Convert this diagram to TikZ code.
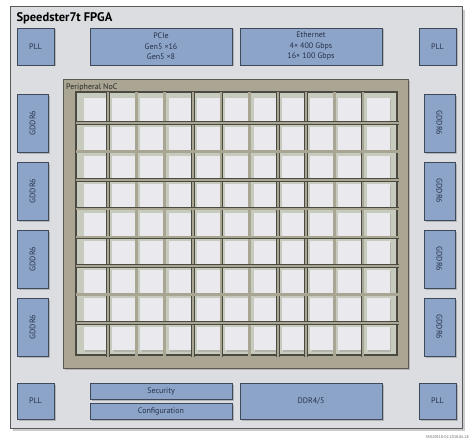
\documentclass[tikz,border=0pt]{standalone}
\usepackage{fontspec}
\setmainfont{PT Sans}
\usepackage{tikz}
\usetikzlibrary{shadows}
\definecolor{chipbg}{HTML}{DCDDE0}
\definecolor{chipline}{HTML}{5A5A5C}
\definecolor{blockfill}{HTML}{8CA4C8}
\definecolor{blockline}{HTML}{3E4A5C}
\definecolor{blocktext}{HTML}{26324A}
\definecolor{nocfill}{HTML}{AAA693}
\definecolor{nocline}{HTML}{5C5A50}
\definecolor{framefill}{HTML}{C6CBBE}
\definecolor{gridline}{HTML}{4A4A40}
\definecolor{gridfill}{HTML}{A8A592}
\definecolor{cellfill}{HTML}{EAEAEE}

\begin{document}
\begin{tikzpicture}[x=1pt, y=-1pt, block/.style = {shape=rectangle, draw=blockline, line width=0.8pt, fill=blockfill, align=center, inner sep=0pt, text=blocktext, font=\fontsize{8}{10.5}\selectfont, drop shadow={opacity=0.45, shadow xshift=1.5pt, shadow yshift=-1.5pt}}, cell/.style = {shape=rectangle, fill=cellfill, inner sep=0pt, minimum width=22.8pt, minimum height=23.1pt, drop shadow={opacity=0.3, shadow xshift=1.5pt, shadow yshift=-1.5pt}}, noclink/.style = {draw=gridline, line width=0.5pt, double=gridfill, double distance=2.4pt}]
	\useasboundingbox (0,0) rectangle (474,444);
	\fill[white] (0,0) rectangle (474,444);
	\draw[chipline, fill=chipbg, line width=1pt, drop shadow={opacity=0.4, shadow xshift=3pt, shadow yshift=-3pt}] (10,7) rectangle (462,428);
	\node[anchor=west, font=\fontsize{12.5}{14}\selectfont\bfseries] (title) at (13,18) {Speedster7t FPGA};
	\node[block, minimum width=37pt, minimum height=37pt] (pll-tl) at (35.5,46.5) {PLL};
	\node[block, minimum width=142pt, minimum height=37pt] (pcie) at (161,46.5) {PCIe\\Gen5 ×16\\Gen5 ×8};
	\node[block, minimum width=142pt, minimum height=37pt] (eth) at (311,46.5) {Ethernet\\4× 400 Gbps\\16× 100 Gbps};
	\node[block, minimum width=37pt, minimum height=37pt] (pll-tr) at (437.5,46.5) {PLL};
	\foreach \n/\y in {1/123, 2/191, 3/259, 4/327} {
		\node[block, rotate=90, minimum width=58pt, minimum height=31pt] (gddr-l\n) at (32.5,\y) {GDDR6};
		\node[block, rotate=-90, minimum width=58pt, minimum height=31pt] (gddr-r\n) at (439.5,\y) {GDDR6};
	}
	\draw[nocline, fill=nocfill, line width=0.8pt, drop shadow={opacity=0.4, shadow xshift=2pt, shadow yshift=-2pt}] (63,79) rectangle (408,368);
	\node[anchor=west, inner sep=0pt, font=\fontsize{8}{10}\selectfont, text=black!85] (noc) at (66,87) {Peripheral NoC};
	\draw[gridline, fill=framefill, line width=1.2pt] (76,92) rectangle (397,355);
	\foreach \i in {0,...,10}
		\foreach \j in {0,...,8}
			\node[cell] (cell-\i-\j) at (95.1+28.3*\i, 109.97+28.57*\j) {};
	\foreach \k in {0,...,9}
		\draw[noclink] (108+28.3*\k,92) -- (108+28.3*\k,357);
	\foreach \k in {0,...,7}
		\draw[noclink] (76,123+28.57*\k) -- (399,123+28.57*\k);
	\node[block, minimum width=37pt, minimum height=36pt] (pll-bl) at (35.5,401) {PLL};
	\node[block, minimum width=142pt, minimum height=16pt] (security) at (161,391) {Security};
	\node[block, minimum width=142pt, minimum height=16pt] (config) at (161,411) {Configuration};
	\node[block, minimum width=142pt, minimum height=36pt] (ddr) at (311,401) {DDR4/5};
	\node[block, minimum width=37pt, minimum height=36pt] (pll-br) at (437.5,401) {PLL};
	\node[anchor=east, inner sep=0pt, font=\fontsize{4}{5}\selectfont, text=black!60] (docid) at (469,437) {34020918-02.2018.06.18};
\end{tikzpicture}
\end{document}
